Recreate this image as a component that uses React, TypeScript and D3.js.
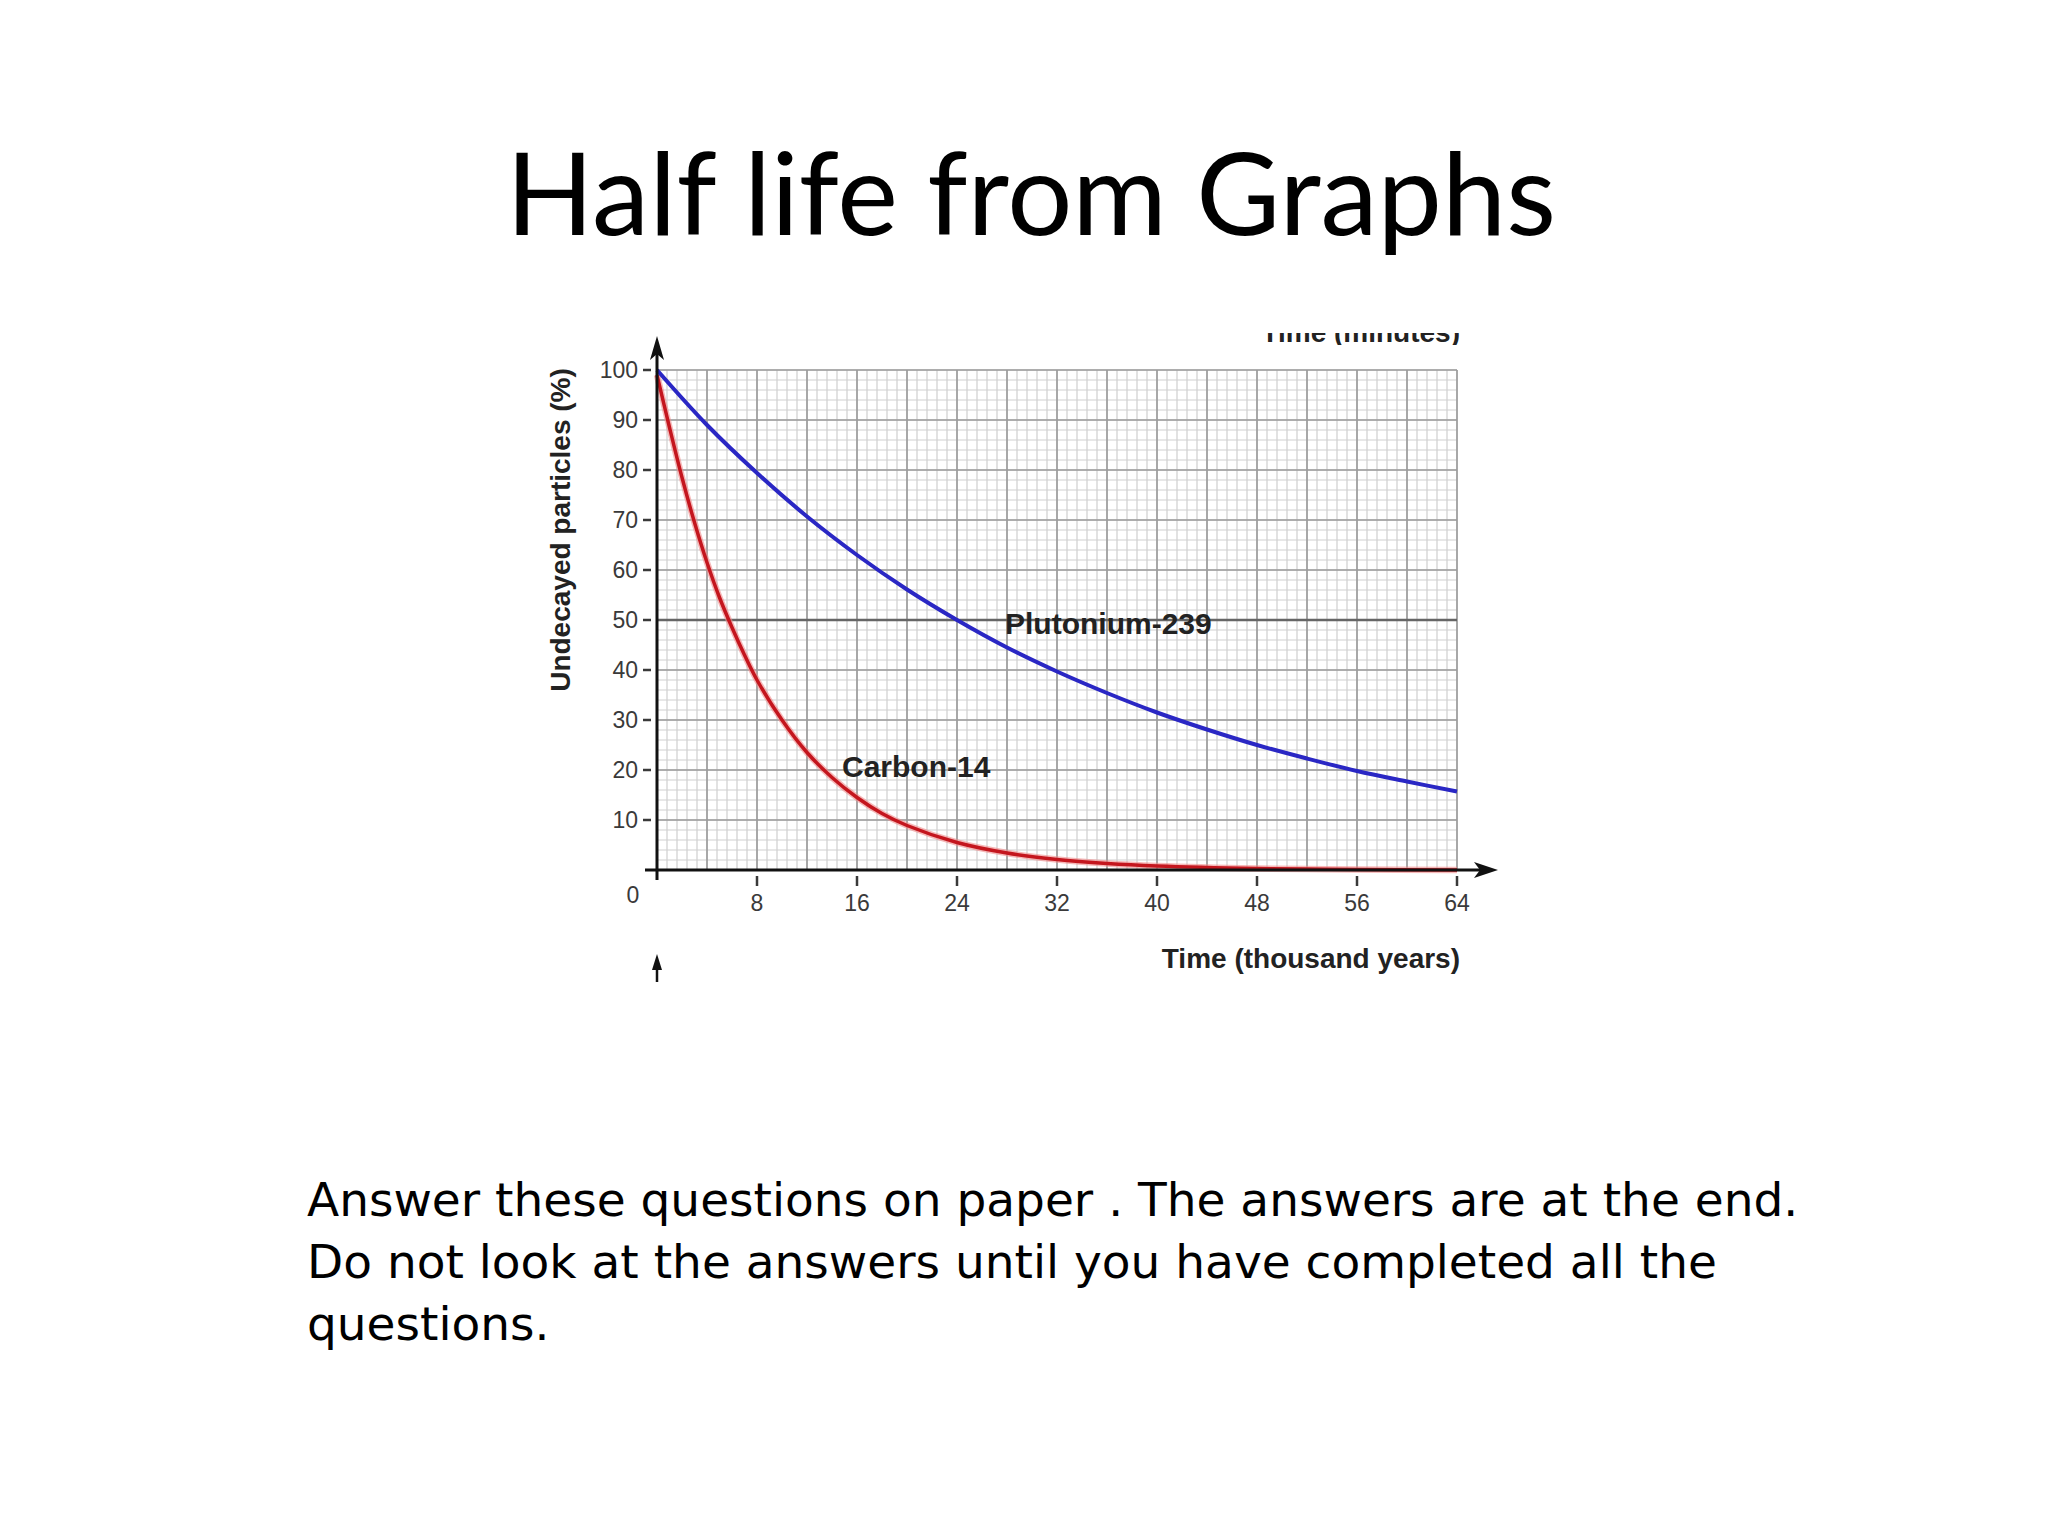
import { useEffect, useRef } from "react";
import * as d3 from "d3";

// values (time in thousand years, % undecayed)
const PU_TIME = [0, 4, 8, 12, 16, 20, 24, 28, 32, 36, 40, 44, 48, 52, 56, 60, 64];
const PU_VALUES = [100, 89, 79.4, 70.7, 63, 56.1, 50, 44.5, 39.7, 35.4, 31.5, 28.1, 25, 22.3, 19.8, 17.7, 15.7];

const C14_TIME = [0, 1, 2, 3, 4, 5, 6, 7, 8, 10, 12, 14, 16, 18, 20, 24, 28, 32, 36, 40, 48, 56, 64];
const C14_VALUES = [99, 88.5, 78.5, 69.5, 61.5, 54.5, 48.5, 43, 38, 30, 23.5, 18.5, 14.5, 11.3, 8.9, 5.5, 3.4, 2.1, 1.3, 0.8, 0.3, 0.1, 0];

const X_TICKS = [8, 16, 24, 32, 40, 48, 56, 64];
const Y_TICKS = [10, 20, 30, 40, 50, 60, 70, 80, 90, 100];

const QUESTION_LINES = [
  "Answer these questions on paper . The answers are at the end.",
  "Do not look at the answers until you have completed all the",
  "questions.",
];

export default function App() {
  const svgRef = useRef<SVGSVGElement | null>(null);

  useEffect(() => {
    if (!svgRef.current) return;
    const W = 2048, H = 1536;
    const svg = d3.select(svgRef.current);
    svg.selectAll("*").remove();
    svg.attr("width", W).attr("height", H).attr("viewBox", `0 0 ${W} ${H}`);

    svg.append("rect").attr("width", W).attr("height", H).attr("fill", "#fff");

    // slide title
    svg.append("text")
      .attr("x", 1031).attr("y", 235).attr("text-anchor", "middle")
      .attr("font-family", "Lato, 'Open Sans', sans-serif").attr("font-size", 115)
      .attr("fill", "#000").text("Half life from Graphs");

    const x = d3.scaleLinear().domain([0, 64]).range([657, 1457]);
    const y = d3.scaleLinear().domain([0, 100]).range([870, 370]);

    const g = svg.append("g");

    // graph paper
    const minorX = d3.range(0, 64.01, 0.8);
    const minorY = d3.range(0, 100.01, 2);
    g.append("g").selectAll("line").data(minorX).join("line")
      .attr("x1", (d) => x(d)).attr("x2", (d) => x(d)).attr("y1", y(100)).attr("y2", y(0))
      .attr("stroke", "#cfcfcf").attr("stroke-width", 1.2);
    g.append("g").selectAll("line").data(minorY).join("line")
      .attr("x1", x(0)).attr("x2", x(64)).attr("y1", (d) => y(d)).attr("y2", (d) => y(d))
      .attr("stroke", "#cfcfcf").attr("stroke-width", 1.2);

    const majorX = d3.range(0, 64.01, 4);
    const majorY = d3.range(0, 100.01, 10);
    g.append("g").selectAll("line").data(majorX).join("line")
      .attr("x1", (d) => x(d)).attr("x2", (d) => x(d)).attr("y1", y(100)).attr("y2", y(0))
      .attr("stroke", "#9a9a9a").attr("stroke-width", 1.6);
    g.append("g").selectAll("line").data(majorY).join("line")
      .attr("x1", x(0)).attr("x2", x(64)).attr("y1", (d) => y(d)).attr("y2", (d) => y(d))
      .attr("stroke", (d) => (d === 50 ? "#666" : "#9a9a9a"))
      .attr("stroke-width", (d) => (d === 50 ? 2.4 : 1.6));

    // clipped caption peeking in at the top (only its lower edge shows)
    svg.append("clipPath").attr("id", "topclip")
      .append("rect").attr("x", 1200).attr("y", 333).attr("width", 300).attr("height", 12);
    svg.append("text")
      .attr("x", 1460).attr("y", 342).attr("text-anchor", "end")
      .attr("font-family", "'Liberation Sans', Arial, sans-serif").attr("font-weight", 700)
      .attr("font-size", 28).attr("fill", "#222").attr("clip-path", "url(#topclip)")
      .text("Time (minutes)");

    // curves
    const line = d3.line<[number, number]>()
      .x((d) => x(d[0])).y((d) => y(d[1])).curve(d3.curveCatmullRom.alpha(0.5));
    const c14 = C14_TIME.map((t, i) => [t, C14_VALUES[i]] as [number, number]);
    const pu = PU_TIME.map((t, i) => [t, PU_VALUES[i]] as [number, number]);

    g.append("path").attr("d", line(c14)).attr("fill", "none")
      .attr("stroke", "#f08a8a").attr("stroke-width", 6.5).attr("opacity", 0.6);
    g.append("path").attr("d", line(c14)).attr("fill", "none")
      .attr("stroke", "#c4161e").attr("stroke-width", 3.5);
    g.append("path").attr("d", line(pu)).attr("fill", "none")
      .attr("stroke", "#2a27c4").attr("stroke-width", 4);

    // axes
    const axisColor = "#111";
    g.append("line").attr("x1", 645).attr("x2", 1486).attr("y1", y(0)).attr("y2", y(0))
      .attr("stroke", axisColor).attr("stroke-width", 3);
    g.append("path")
      .attr("d", `M1498,${y(0)} L1474,${y(0) - 8} L1480,${y(0)} L1474,${y(0) + 8} Z`)
      .attr("fill", axisColor);
    g.append("line").attr("x1", x(0)).attr("x2", x(0)).attr("y1", 880).attr("y2", 348)
      .attr("stroke", axisColor).attr("stroke-width", 3);
    g.append("path")
      .attr("d", `M${x(0)},336 L${x(0) - 7},360 L${x(0)},354 L${x(0) + 7},360 Z`)
      .attr("fill", axisColor);

    // small arrow below the origin
    g.append("line").attr("x1", x(0)).attr("x2", x(0)).attr("y1", 966).attr("y2", 982)
      .attr("stroke", axisColor).attr("stroke-width", 2.5);
    g.append("path")
      .attr("d", `M${x(0)},954 L${x(0) - 5},970 L${x(0) + 5},970 Z`).attr("fill", axisColor);

    const tickFont = "'Liberation Sans', Arial, sans-serif";
    const tickColor = "#3a3a3a";

    const yt = g.append("g");
    yt.selectAll("line").data(Y_TICKS).join("line")
      .attr("x1", 643).attr("x2", 651).attr("y1", (d) => y(d)).attr("y2", (d) => y(d))
      .attr("stroke", tickColor).attr("stroke-width", 2.5);
    yt.selectAll("text").data(Y_TICKS).join("text")
      .attr("x", 638).attr("y", (d) => y(d) + 8).attr("text-anchor", "end")
      .attr("font-family", tickFont).attr("font-size", 23).attr("fill", tickColor)
      .text((d) => String(d));

    const xt = g.append("g");
    xt.selectAll("line").data(X_TICKS).join("line")
      .attr("x1", (d) => x(d)).attr("x2", (d) => x(d)).attr("y1", 876).attr("y2", 886)
      .attr("stroke", tickColor).attr("stroke-width", 2.5);
    xt.selectAll("text").data(X_TICKS).join("text")
      .attr("x", (d) => x(d)).attr("y", 911).attr("text-anchor", "middle")
      .attr("font-family", tickFont).attr("font-size", 23).attr("fill", tickColor)
      .text((d) => String(d));

    g.append("text").attr("x", 633).attr("y", 903).attr("text-anchor", "middle")
      .attr("font-family", tickFont).attr("font-size", 23).attr("fill", tickColor).text("0");

    // axis titles
    g.append("text").attr("transform", "translate(570,530) rotate(-90)")
      .attr("text-anchor", "middle").attr("font-family", tickFont).attr("font-weight", 700)
      .attr("font-size", 28).attr("fill", "#222").text("Undecayed particles (%)");
    g.append("text").attr("x", 1460).attr("y", 968).attr("text-anchor", "end")
      .attr("font-family", tickFont).attr("font-weight", 700)
      .attr("font-size", 28).attr("fill", "#222").text("Time (thousand years)");

    // curve labels
    g.append("text").attr("x", 1005).attr("y", 634)
      .attr("font-family", tickFont).attr("font-weight", 700)
      .attr("font-size", 30).attr("fill", "#222").text("Plutonium-239");
    g.append("text").attr("x", 842).attr("y", 777)
      .attr("font-family", tickFont).attr("font-weight", 700)
      .attr("font-size", 30).attr("fill", "#222").text("Carbon-14");

    // instructions below the graph
    svg.append("g").selectAll("text").data(QUESTION_LINES).join("text")
      .attr("x", 307).attr("y", (_, i) => 1216 + i * 62)
      .attr("font-family", "'Comic Sans MS', 'DejaVu Sans', sans-serif").attr("font-size", 47)
      .attr("fill", "#000").text((d) => d);
  }, []);

  return <svg ref={svgRef} style={{ position: "absolute", left: 0, top: 0, display: "block" }} />;
}
